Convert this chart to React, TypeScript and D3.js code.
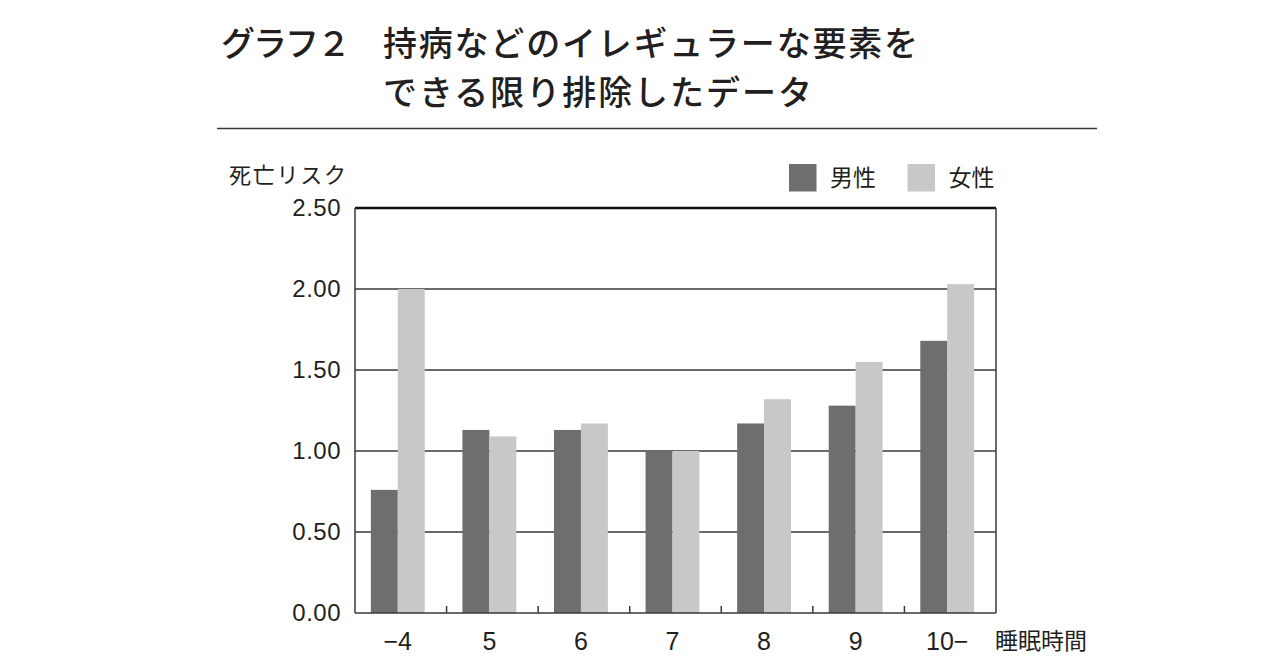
import React from 'react';
import * as d3 from 'd3';

// sleep hours (categories) and relative mortality risk
const categories = ['−4', '5', '6', '7', '8', '9', '10−'];
const maleRisk = [0.76, 1.13, 1.13, 1.0, 1.17, 1.28, 1.68];
const femaleRisk = [2.0, 1.09, 1.17, 1.0, 1.32, 1.55, 2.03];
const yTicks = [0, 0.5, 1.0, 1.5, 2.0, 2.5];
const seriesKeys = ['male', 'female'];
const seriesNames = ['男性', '女性'];

const W = 1280;
const H = 670;
const plot = { left: 355, right: 996, top: 208, bottom: 613 };

const colors = { male: '#6f6d6e', female: '#c8c8c8', ink: '#231f20', grid: '#3a3839' };
const jp = "'Noto Sans CJK JP', 'Noto Sans', sans-serif";
const num = "'Liberation Sans', Arial, sans-serif";

const App: React.FC = () => {
  const x = d3.scaleBand<string>().domain(categories).range([plot.left, plot.right]).padding(0);
  const bw = x.bandwidth();
  const x1 = d3.scaleBand<string>().domain(seriesKeys).range([-3, bw - 3]).paddingInner(0).paddingOuter(0.7);
  const y = d3.scaleLinear().domain([0, 2.5]).range([plot.bottom, plot.top]);

  const rows = categories.map((c, i) => ({ c, male: maleRisk[i], female: femaleRisk[i] }));

  return (
    <svg width={W} height={H} style={{ position: 'absolute', left: 0, top: 0, background: '#fff' }}>
      {/* title */}
      <g fill={colors.ink} fontFamily={jp} fontWeight={500}>
        <text x={221} y={56} fontSize={34} textLength={130} lengthAdjust="spacing">グラフ２</text>
        <text x={383} y={56} fontSize={34} textLength={535} lengthAdjust="spacing">持病などのイレギュラーな要素を</text>
        <text x={383} y={105} fontSize={34} textLength={429} lengthAdjust="spacing">できる限り排除したデータ</text>
      </g>
      <line x1={217} x2={1097} y1={128.5} y2={128.5} stroke={colors.grid} strokeWidth={1.5} />

      {/* y axis title */}
      <text x={229} y={183} fontSize={22} fontFamily={jp} fill={colors.ink} textLength={117} lengthAdjust="spacing">死亡リスク</text>

      {/* legend */}
      {seriesKeys.map((k, i) => (
        <g key={k} transform={`translate(${789 + i * 118.5},164)`}>
          <rect width={27.5} height={27.5} fill={(colors as any)[k]} />
          <text x={41} y={22} fontSize={23} fontFamily={jp} fill={colors.ink}>{seriesNames[i]}</text>
        </g>
      ))}

      {/* gridlines */}
      {yTicks.slice(1, -1).map(t => (
        <line key={t} x1={plot.left} x2={plot.right} y1={y(t)} y2={y(t)} stroke={colors.grid} strokeWidth={1.5} />
      ))}

      {/* bars */}
      {rows.map(r => (
        <g key={r.c} transform={`translate(${x(r.c)},0)`}>
          {seriesKeys.map(k => (
            <rect
              key={k}
              x={x1(k)}
              y={y((r as any)[k])}
              width={x1.bandwidth()}
              height={y(0) - y((r as any)[k])}
              fill={(colors as any)[k]}
            />
          ))}
        </g>
      ))}

      {/* frame */}
      <line x1={plot.left} x2={plot.right} y1={plot.top} y2={plot.top} stroke="#111" strokeWidth={2.5} />
      <line x1={plot.left} x2={plot.left} y1={plot.top} y2={plot.bottom} stroke={colors.grid} strokeWidth={1.5} />
      <line x1={plot.right} x2={plot.right} y1={plot.top} y2={plot.bottom} stroke={colors.grid} strokeWidth={1.5} />
      <line x1={plot.left} x2={plot.right} y1={plot.bottom} y2={plot.bottom} stroke={colors.grid} strokeWidth={1.5} />

      {/* inner ticks between groups */}
      {categories.slice(1).map(c => (
        <line key={c} x1={x(c)} x2={x(c)} y1={plot.bottom} y2={plot.bottom - 7} stroke={colors.grid} strokeWidth={1.5} />
      ))}

      {/* y tick labels */}
      {yTicks.map(t => (
        <text key={t} x={341} y={y(t)} dy="0.33em" textAnchor="end" fontSize={24} fontFamily={num} fill={colors.ink} letterSpacing={0.5}>
          {d3.format('.2f')(t)}
        </text>
      ))}

      {/* x tick labels */}
      {categories.map(c => (
        <text key={c} x={(x(c) as number) + bw / 2 - 3} y={650} textAnchor="middle" fontSize={25} fontFamily={num} fill={colors.ink}>
          {c}
        </text>
      ))}
      <text x={995} y={649} fontSize={23} fontFamily={jp} fill={colors.ink}>睡眠時間</text>
    </svg>
  );
};

export default App;
